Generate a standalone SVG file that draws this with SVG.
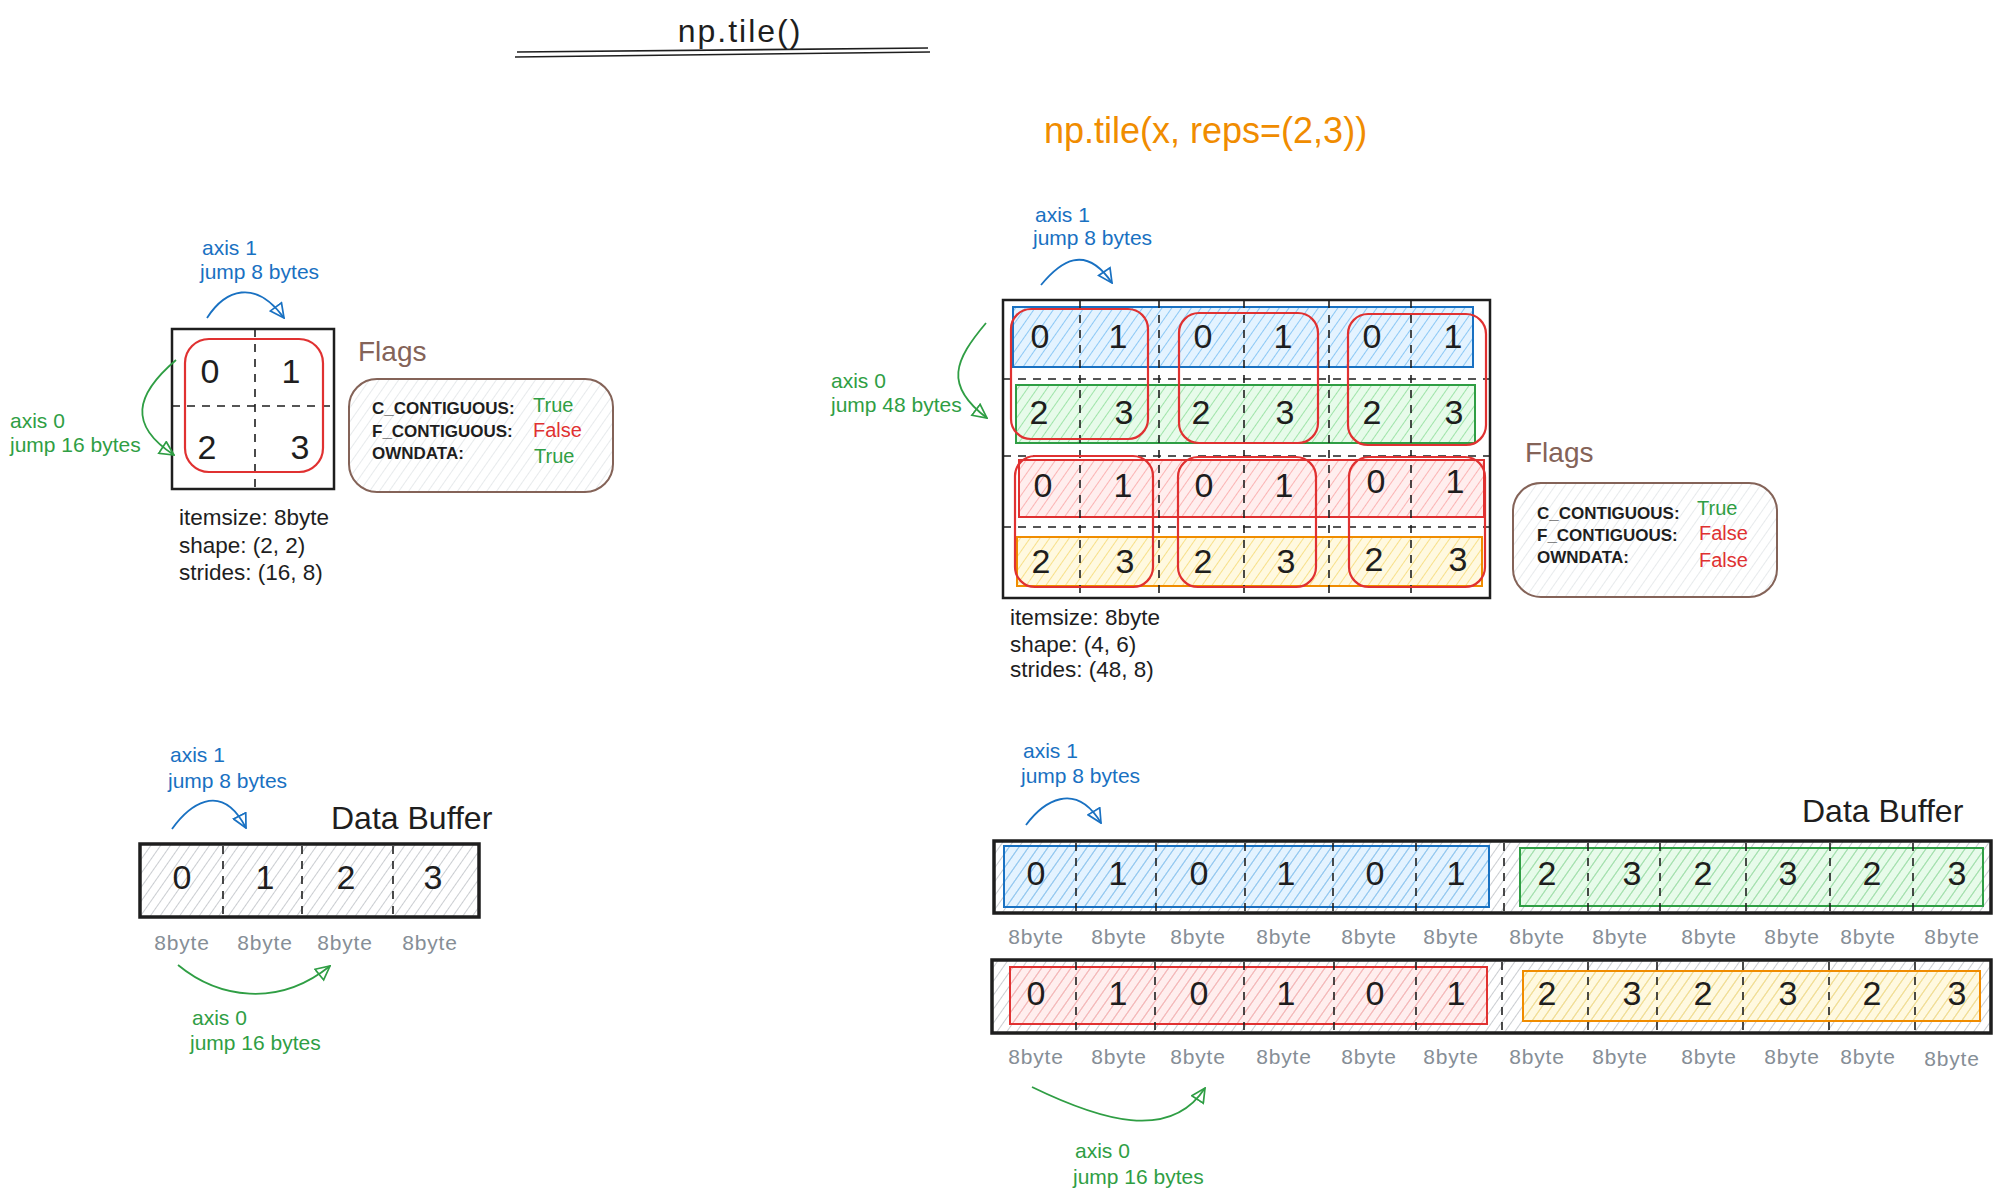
<svg xmlns="http://www.w3.org/2000/svg" width="2000" height="1200" viewBox="0 0 2000 1200">
<style>
text{font-family:"Liberation Sans",Arial,sans-serif}
.box{fill:none;stroke:#1e1e1e;stroke-width:2.5}
.bar{stroke:#1e1e1e;stroke-width:3.5}
.dash{stroke:#1e1e1e;stroke-width:1.6;stroke-dasharray:8 7;fill:none}
.redr{fill:none;stroke:#e03131;stroke-width:2.2}
.digit{font-size:34px;fill:#1e1e1e;text-anchor:middle}
.blue{fill:#1971c2;font-size:21px}
.green{fill:#2f9e44;font-size:21px}
.gray{fill:#868e96;font-size:21px;text-anchor:middle;letter-spacing:0.8px}
.info{fill:#1e1e1e;font-size:22.5px}
.flagbox{fill:url(#hLight);stroke:#846358;stroke-width:2}
.flagt{fill:#846358;font-size:28px}
.lbl{fill:#1e1e1e;font-size:17px;font-weight:bold}
.val{font-size:20px}
.vt{fill:#2f9e44}
.vf{fill:#e03131}
.buf{fill:#1e1e1e;font-size:32px}
.arB{fill:none;stroke:#1971c2;stroke-width:1.8;marker-end:url(#mB)}
.arG{fill:none;stroke:#2f9e44;stroke-width:1.8;marker-end:url(#mG)}
</style>
<defs>
<pattern id="hBlue" width="8" height="8" patternUnits="userSpaceOnUse" patternTransform="rotate(35)">
<rect width="8" height="8" fill="#a5d8ff" fill-opacity="0.3"/><line x1="0" y1="0" x2="0" y2="8" stroke="#8cc8f5" stroke-width="2"/></pattern>
<pattern id="hGreen" width="8" height="8" patternUnits="userSpaceOnUse" patternTransform="rotate(35)">
<rect width="8" height="8" fill="#b2f2bb" fill-opacity="0.3"/><line x1="0" y1="0" x2="0" y2="8" stroke="#9fe4a9" stroke-width="2"/></pattern>
<pattern id="hRed" width="8" height="8" patternUnits="userSpaceOnUse" patternTransform="rotate(35)">
<rect width="8" height="8" fill="#ffc9c9" fill-opacity="0.3"/><line x1="0" y1="0" x2="0" y2="8" stroke="#fbb4b4" stroke-width="2"/></pattern>
<pattern id="hYellow" width="8" height="8" patternUnits="userSpaceOnUse" patternTransform="rotate(35)">
<rect width="8" height="8" fill="#ffec99" fill-opacity="0.3"/><line x1="0" y1="0" x2="0" y2="8" stroke="#f7e08a" stroke-width="2"/></pattern>
<pattern id="hGray" width="8" height="8" patternUnits="userSpaceOnUse" patternTransform="rotate(35)">
<rect width="8" height="8" fill="#ffffff"/><line x1="0" y1="0" x2="0" y2="8" stroke="#b8bdc2" stroke-width="1.5"/></pattern>
<pattern id="hLight" width="8" height="8" patternUnits="userSpaceOnUse" patternTransform="rotate(35)">
<rect width="8" height="8" fill="#ffffff"/><line x1="0" y1="0" x2="0" y2="8" stroke="#e0e3e6" stroke-width="1.5"/></pattern>
<marker id="mB" viewBox="0 0 14 14" refX="13" refY="7" markerWidth="16" markerHeight="16" markerUnits="userSpaceOnUse" orient="auto">
<path d="M1,1 L13,7 L1,13 Z" fill="none" stroke="#1971c2" stroke-width="1.5"/></marker>
<marker id="mG" viewBox="0 0 14 14" refX="13" refY="7" markerWidth="16" markerHeight="16" markerUnits="userSpaceOnUse" orient="auto">
<path d="M1,1 L13,7 L1,13 Z" fill="none" stroke="#2f9e44" stroke-width="1.5"/></marker>
</defs>
<rect width="2000" height="1200" fill="#ffffff"/>

<g id="title">
<text x="740" y="42" font-size="32" letter-spacing="2" text-anchor="middle" fill="#1e1e1e">np.tile()</text>
<line x1="517" y1="52" x2="928" y2="48" stroke="#1e1e1e" stroke-width="1.6"/>
<line x1="515" y1="57" x2="930" y2="52" stroke="#1e1e1e" stroke-width="1.6"/>
</g>
<g id="subtitle">
<text x="1044" y="143" font-size="36" fill="#f08c00">np.tile(x, reps=(2,3))</text>
</g>

<!-- left matrix -->
<g id="left-matrix">
<rect class="box" x="172" y="329" width="162" height="160"/>
<line class="dash" x1="255" y1="329" x2="255" y2="489"/>
<line class="dash" x1="172" y1="406" x2="334" y2="406"/>
<rect class="redr" x="185" y="339" width="138" height="133" rx="24"/>
<text class="digit" x="210" y="383">0</text>
<text class="digit" x="291" y="383">1</text>
<text class="digit" x="207" y="459">2</text>
<text class="digit" x="300" y="459">3</text>
</g>
<g id="left-matrix-axis1-label">
<text class="blue" x="202" y="255">axis 1</text>
<text class="blue" x="200" y="279">jump 8 bytes</text>
</g>
<g id="left-matrix-axis0-label">
<text class="green" x="10" y="428">axis 0</text>
<text class="green" x="10" y="452">jump 16 bytes</text>
</g>
<g id="left-info">
<text class="info" x="179" y="525">itemsize: 8byte</text>
<text class="info" x="179" y="553">shape: (2, 2)</text>
<text class="info" x="179" y="580">strides: (16, 8)</text>
</g>
<g id="left-flags">
<text class="flagt" x="358" y="361">Flags</text>
<rect class="flagbox" x="349" y="379" width="264" height="113" rx="28"/>
<text class="lbl" x="372" y="414">C_CONTIGUOUS:</text>
<text class="lbl" x="372" y="437">F_CONTIGUOUS:</text>
<text class="lbl" x="372" y="459">OWNDATA:</text>
<text class="val vt" x="533" y="412">True</text>
<text class="val vf" x="533" y="437">False</text>
<text class="val vt" x="534" y="463">True</text>
</g>

<!-- right matrix -->
<g id="right-matrix">
<rect x="1013" y="307" width="460" height="60" fill="url(#hBlue)" stroke="#1971c2" stroke-width="2"/>
<rect x="1016" y="385" width="459" height="58" fill="url(#hGreen)" stroke="#2f9e44" stroke-width="2"/>
<rect x="1019" y="460" width="465" height="57" fill="url(#hRed)" stroke="#e03131" stroke-width="2"/>
<rect x="1017" y="537" width="465" height="49" fill="url(#hYellow)" stroke="#f08c00" stroke-width="2"/>
<rect class="box" x="1003" y="300" width="487" height="298"/>
<line class="dash" x1="1080" y1="300" x2="1080" y2="598"/>
<line class="dash" x1="1159" y1="300" x2="1159" y2="598"/>
<line class="dash" x1="1244" y1="300" x2="1244" y2="598"/>
<line class="dash" x1="1329" y1="300" x2="1329" y2="598"/>
<line class="dash" x1="1411" y1="300" x2="1411" y2="598"/>
<line class="dash" x1="1003" y1="379" x2="1490" y2="379"/>
<line class="dash" x1="1003" y1="456" x2="1490" y2="456"/>
<line class="dash" x1="1003" y1="527" x2="1490" y2="527"/>
<rect class="redr" x="1011" y="309" width="137" height="130" rx="20"/>
<rect class="redr" x="1179" y="313" width="139" height="130" rx="20"/>
<rect class="redr" x="1348" y="314" width="138" height="131" rx="20"/>
<rect class="redr" x="1015" y="456" width="138" height="131" rx="20"/>
<rect class="redr" x="1178" y="457" width="138" height="130" rx="20"/>
<rect class="redr" x="1349" y="457" width="136" height="130" rx="20"/>
<text class="digit" x="1040" y="348">0</text>
<text class="digit" x="1118" y="348">1</text>
<text class="digit" x="1203" y="348">0</text>
<text class="digit" x="1283" y="348">1</text>
<text class="digit" x="1372" y="348">0</text>
<text class="digit" x="1453" y="348">1</text>
<text class="digit" x="1039" y="424">2</text>
<text class="digit" x="1124" y="424">3</text>
<text class="digit" x="1201" y="424">2</text>
<text class="digit" x="1285" y="424">3</text>
<text class="digit" x="1372" y="424">2</text>
<text class="digit" x="1454" y="424">3</text>
<text class="digit" x="1043" y="497">0</text>
<text class="digit" x="1123" y="497">1</text>
<text class="digit" x="1204" y="497">0</text>
<text class="digit" x="1284" y="497">1</text>
<text class="digit" x="1376" y="493">0</text>
<text class="digit" x="1455" y="493">1</text>
<text class="digit" x="1041" y="573">2</text>
<text class="digit" x="1125" y="573">3</text>
<text class="digit" x="1203" y="573">2</text>
<text class="digit" x="1286" y="573">3</text>
<text class="digit" x="1374" y="571">2</text>
<text class="digit" x="1458" y="571">3</text>
</g>
<g id="right-matrix-axis1-label">
<text class="blue" x="1035" y="222">axis 1</text>
<text class="blue" x="1033" y="245">jump 8 bytes</text>
</g>
<g id="right-matrix-axis0-label">
<text class="green" x="831" y="388">axis 0</text>
<text class="green" x="831" y="412">jump 48 bytes</text>
</g>
<g id="right-info">
<text class="info" x="1010" y="625">itemsize: 8byte</text>
<text class="info" x="1010" y="652">shape: (4, 6)</text>
<text class="info" x="1010" y="677">strides: (48, 8)</text>
</g>
<g id="right-flags">
<text class="flagt" x="1525" y="462">Flags</text>
<rect class="flagbox" x="1513" y="483" width="264" height="114" rx="28"/>
<text class="lbl" x="1537" y="519">C_CONTIGUOUS:</text>
<text class="lbl" x="1537" y="541">F_CONTIGUOUS:</text>
<text class="lbl" x="1537" y="563">OWNDATA:</text>
<text class="val vt" x="1697" y="515">True</text>
<text class="val vf" x="1699" y="540">False</text>
<text class="val vf" x="1699" y="567">False</text>
</g>

<!-- left data buffer -->
<g id="left-buffer">
<text class="buf" x="331" y="829">Data Buffer</text>
<rect class="bar" x="140" y="844" width="339" height="73" fill="url(#hGray)"/>
<line class="dash" x1="223" y1="846" x2="223" y2="915"/>
<line class="dash" x1="302" y1="846" x2="302" y2="915"/>
<line class="dash" x1="393" y1="846" x2="393" y2="915"/>
<text class="digit" x="182" y="889">0</text>
<text class="digit" x="265" y="889">1</text>
<text class="digit" x="346" y="889">2</text>
<text class="digit" x="433" y="889">3</text>
<text class="gray" x="182" y="950">8byte</text>
<text class="gray" x="265" y="950">8byte</text>
<text class="gray" x="345" y="950">8byte</text>
<text class="gray" x="430" y="950">8byte</text>
</g>
<g id="left-buffer-axis1-label">
<text class="blue" x="170" y="762">axis 1</text>
<text class="blue" x="168" y="788">jump 8 bytes</text>
</g>
<g id="left-buffer-axis0-label">
<text class="green" x="192" y="1025">axis 0</text>
<text class="green" x="190" y="1050">jump 16 bytes</text>
</g>

<!-- right data buffer -->
<g id="right-buffer">
<text class="buf" x="1802" y="822">Data Buffer</text>
<rect class="bar" x="994" y="841" width="997" height="72" fill="url(#hGray)"/>
<rect x="1004" y="846" width="485" height="61" fill="url(#hBlue)" stroke="#1971c2" stroke-width="2"/>
<rect x="1520" y="848" width="463" height="58" fill="url(#hGreen)" stroke="#2f9e44" stroke-width="2"/>
<rect class="bar" x="992" y="960" width="999" height="73" fill="url(#hGray)"/>
<rect x="1010" y="967" width="477" height="57" fill="url(#hRed)" stroke="#e03131" stroke-width="2"/>
<rect x="1523" y="971" width="457" height="50" fill="url(#hYellow)" stroke="#f08c00" stroke-width="2"/>
<g class="dash">
<path d="M1076 843V911M1156 843V911M1245 843V911M1333 843V911M1416 843V911M1504 843V911M1588 843V911M1660 843V911M1746 843V911M1830 843V911M1913 843V911"/>
<path d="M1076 962V1031M1155 962V1031M1244 962V1031M1334 962V1031M1416 962V1031M1502 962V1031M1588 962V1031M1657 962V1031M1743 962V1031M1829 962V1031M1915 962V1031"/>
</g>
<text class="digit" x="1036" y="885">0</text>
<text class="digit" x="1118" y="885">1</text>
<text class="digit" x="1199" y="885">0</text>
<text class="digit" x="1286" y="885">1</text>
<text class="digit" x="1375" y="885">0</text>
<text class="digit" x="1456" y="885">1</text>
<text class="digit" x="1547" y="885">2</text>
<text class="digit" x="1632" y="885">3</text>
<text class="digit" x="1703" y="885">2</text>
<text class="digit" x="1788" y="885">3</text>
<text class="digit" x="1872" y="885">2</text>
<text class="digit" x="1957" y="885">3</text>
<text class="digit" x="1036" y="1005">0</text>
<text class="digit" x="1118" y="1005">1</text>
<text class="digit" x="1199" y="1005">0</text>
<text class="digit" x="1286" y="1005">1</text>
<text class="digit" x="1375" y="1005">0</text>
<text class="digit" x="1456" y="1005">1</text>
<text class="digit" x="1547" y="1005">2</text>
<text class="digit" x="1632" y="1005">3</text>
<text class="digit" x="1703" y="1005">2</text>
<text class="digit" x="1788" y="1005">3</text>
<text class="digit" x="1872" y="1005">2</text>
<text class="digit" x="1957" y="1005">3</text>
<text class="gray" x="1036" y="944">8byte</text>
<text class="gray" x="1119" y="944">8byte</text>
<text class="gray" x="1198" y="944">8byte</text>
<text class="gray" x="1284" y="944">8byte</text>
<text class="gray" x="1369" y="944">8byte</text>
<text class="gray" x="1451" y="944">8byte</text>
<text class="gray" x="1537" y="944">8byte</text>
<text class="gray" x="1620" y="944">8byte</text>
<text class="gray" x="1709" y="944">8byte</text>
<text class="gray" x="1792" y="944">8byte</text>
<text class="gray" x="1868" y="944">8byte</text>
<text class="gray" x="1952" y="944">8byte</text>
<text class="gray" x="1036" y="1064">8byte</text>
<text class="gray" x="1119" y="1064">8byte</text>
<text class="gray" x="1198" y="1064">8byte</text>
<text class="gray" x="1284" y="1064">8byte</text>
<text class="gray" x="1369" y="1064">8byte</text>
<text class="gray" x="1451" y="1064">8byte</text>
<text class="gray" x="1537" y="1064">8byte</text>
<text class="gray" x="1620" y="1064">8byte</text>
<text class="gray" x="1709" y="1064">8byte</text>
<text class="gray" x="1792" y="1064">8byte</text>
<text class="gray" x="1868" y="1064">8byte</text>
<text class="gray" x="1952" y="1066">8byte</text>
</g>
<g id="right-buffer-axis1-label">
<text class="blue" x="1023" y="758">axis 1</text>
<text class="blue" x="1021" y="783">jump 8 bytes</text>
</g>
<g id="right-buffer-axis0-label">
<text class="green" x="1075" y="1158">axis 0</text>
<text class="green" x="1073" y="1184">jump 16 bytes</text>
</g>

<g id="connectors">
<path class="arB" d="M207 318 C225 290, 255 278, 284 318"/>
<path class="arG" d="M176 360 C135 395, 128 425, 174 455"/>
<path class="arB" d="M1041 285 C1060 262, 1085 243, 1112 283"/>
<path class="arG" d="M986 323 C955 360, 943 385, 987 418"/>
<path class="arB" d="M172 829 C187 808, 220 778, 246 828"/>
<path class="arG" d="M178 965 C218 998, 278 1008, 330 966"/>
<path class="arB" d="M1026 825 C1043 802, 1075 780, 1101 823"/>
<path class="arG" d="M1032 1087 C1100 1120, 1170 1142, 1205 1088"/>
</g>
</svg>
